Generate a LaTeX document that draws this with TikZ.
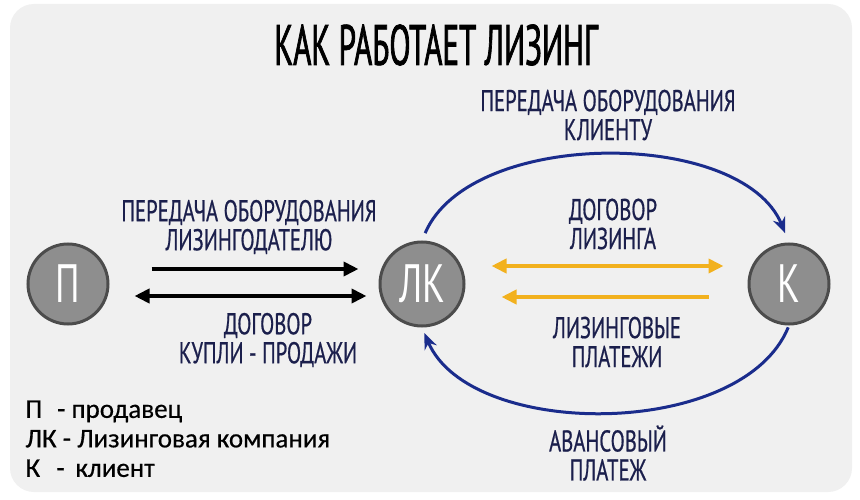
\documentclass[tikz,border=0pt]{standalone}
\usepackage{fontspec}
\setmainfont{Carlito}
\newfontfamily\narrowfont[FakeStretch=0.69]{PT Sans}
\newfontfamily\titlefont[FakeStretch=0.545,FakeBold=1.2]{PT Sans}
\usetikzlibrary{arrows.meta}

\definecolor{navy}{HTML}{1B1F4C}
\definecolor{arcblue}{HTML}{1A2C8C}
\definecolor{amber}{HTML}{F2B11E}
\definecolor{disc}{HTML}{8E8E8E}
\definecolor{rim}{HTML}{4C4C4C}
\definecolor{panel}{HTML}{F0F0F0}

\begin{document}
\begin{tikzpicture}[
      x=1pt, y=-1pt,
      >={Triangle[length=15pt,width=14pt]},
      party/.style={circle, minimum size=80pt, inner sep=0pt, fill=disc, draw=rim, line width=3pt,
        text=white, font=\narrowfont\fontsize{54}{54}\selectfont},
      caption/.style={align=center, text=navy, font=\narrowfont\addfontfeature{FakeBold=0.6}\fontsize{30}{29}\selectfont},
      blackarrow/.style={line width=4pt, draw=black},
      amberarrow/.style={line width=4pt, draw=amber},
      bluearc/.style={line width=3pt, draw=arcblue, -{Stealth[length=16pt,width=13pt]}}
    ]

    % frame
    \useasboundingbox (0,0) rectangle (860,500);
    \fill[white] (0,0) rectangle (860,500);
    \fill[panel, rounded corners=24pt] (10,4) rectangle (852,492);

    % title
    \node[font=\titlefont\fontsize{57}{57}\selectfont] (title) at (436,45) {КАК РАБОТАЕТ ЛИЗИНГ};

    % the three parties
    \node[party] (P) at (68,284) {П};
    \node[party, minimum size=84pt] (LK) at (422,284) {ЛК};
    \node[party] (K) at (789,284) {К};

    % seller <-> leasing company
    \draw[blackarrow, ->] ([xshift=42pt,yshift=15pt]P.east) -- ([xshift=-20pt,yshift=15pt]LK.west);
    \draw[blackarrow, <->] ([xshift=25pt,yshift=-12pt]P.east) -- ([xshift=-12pt,yshift=-12pt]LK.west);
    \node[caption] (handover) at (249,227) {ПЕРЕДАЧА ОБОРУДОВАНИЯ\\ЛИЗИНГОДАТЕЛЮ};
    \node[caption] (purchase) at (268,340) {ДОГОВОР\\КУПЛИ - ПРОДАЖИ};

    % leasing company <-> client
    \draw[amberarrow, <->] ([xshift=26pt,yshift=18pt]LK.east) -- ([xshift=-24pt,yshift=18pt]K.west);
    \draw[amberarrow, <-] ([xshift=36pt,yshift=-13pt]LK.east) -- ([xshift=-39pt,yshift=-13pt]K.west);
    \node[caption] (contract) at (613,224) {ДОГОВОР\\ЛИЗИНГА};
    \node[caption] (payments) at (617,342) {ЛИЗИНГОВЫЕ\\ПЛАТЕЖИ};

    % arcs
    \draw[bluearc, shorten <=8pt, shorten >=10pt] (LK.north) .. controls (470,128) and (742,128) .. (K.north);
    \draw[bluearc, shorten <=2pt, shorten >=6pt] (K.south) .. controls (742,440) and (470,440) .. (LK.south);
    \node[caption] (delivery) at (608,115) {ПЕРЕДАЧА ОБОРУДОВАНИЯ\\КЛИЕНТУ};
    \node[caption] (advance) at (608,453) {АВАНСОВЫЙ\\ПЛАТЕЖ};

    % legend
    \node[anchor=north west, align=left, font=\addfontfeature{FakeBold=0.5}\fontsize{27}{29.5}\selectfont] (legend) at (22,397)
      {П\hspace{0.55em}- продавец\\ЛК - Лизинговая компания\\К\hspace{0.6em}-\hspace{0.4em}клиент};
  \end{tikzpicture}
\end{document}
